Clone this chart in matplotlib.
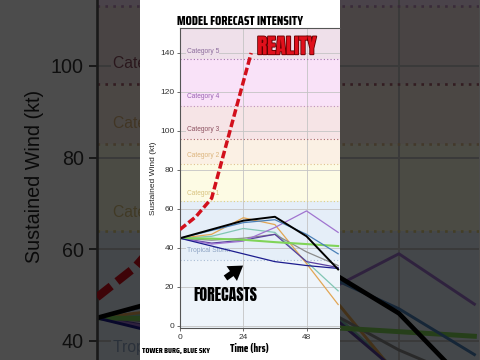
import matplotlib
matplotlib.use("Agg")
import matplotlib.pyplot as plt
from matplotlib.patches import Rectangle, FancyArrowPatch
import matplotlib.patheffects as pe

# ---------------- data ----------------
hours = [0, 12, 24, 36, 48, 60]
forecast_black = [45, 49.5, 54, 56, 46, 29]
forecast_steel = [45, 49, 53, 54.5, 47, 37]
forecast_lavender = [45, 42, 43.5, 50.5, 59, 48]
forecast_green = [45, 44.8, 44.2, 43, 42, 41]
forecast_navy = [45, 41, 37, 33, 31, 29.5]
forecast_indigo = [45, 42.5, 44, 47, 33, 30]
forecast_gray = [45, 44, 45, 47, 38, 31]
forecast_orange = [45, 47, 55.5, 52, 32, 11]
forecast_teal = [45, 46, 50, 48, 33, 18]

reality_hours = [0, 6, 12, 27]
reality_wind = [49.5, 56, 65.5, 140]

band_edges = [-5, 34, 64, 83, 96, 113, 137, 160]
band_colors = ["#eef4fa", "#e5eef8", "#fdfbe4", "#fbf0e4", "#f6e4e6", "#f9e2f8", "#efe0ea"]
thresholds = [34, 64, 83, 96, 113, 137]
threshold_colors = ["#a8bcd4", "#e0d080", "#e0c090", "#a86070", "#c090c0", "#a070a8"]
cat_names = ["Tropical Storm", "Category 1", "Category 2", "Category 3", "Category 4", "Category 5"]
cat_label_y = [38.5, 68, 87.5, 100.5, 117.5, 141]
cat_label_colors = ["#8ea4c4", "#d8c27e", "#dcb47c", "#8c5060", "#9a62b4", "#8c6c9c"]
x_ticks = [0, 24, 48]
y_ticks = [0, 20, 40, 60, 80, 100, 120, 140]

series = [
    (forecast_teal, "#82c6b4", 0.9),
    (forecast_orange, "#e2a654", 0.9),
    (forecast_gray, "#8c8c8c", 0.9),
    (forecast_indigo, "#5a40a0", 0.9),
    (forecast_lavender, "#a074d0", 0.9),
    (forecast_green, "#80d458", 1.5),
    (forecast_steel, "#4a80b8", 0.9),
    (forecast_navy, "#1c1c8e", 0.9),
    (forecast_black, "#000000", 1.4),
]

XLIM = (0, 60.7)
YLIM = (-1.03, 152.8)
HEAD = ["Anton", "DejaVu Sans"]
SUB = ["Saira Condensed", "Anton", "DejaVu Sans"]


def draw_chart(ax, s):
    for i in range(len(band_colors)):
        ax.axhspan(band_edges[i], band_edges[i + 1], color=band_colors[i], lw=0, zorder=0)
    for v, c in zip(thresholds, threshold_colors):
        ax.axhline(v, color=c, ls=(0, (1, 2)), lw=0.8 * s, zorder=1)
    ax.set_axisbelow(True)
    ax.grid(True, color="#c4c4c4", lw=0.6 * s)
    for name, y, c, bc in zip(cat_names, cat_label_y, cat_label_colors, band_colors[1:]):
        ax.text(2.5, y, name, color=c, fontsize=4.8 * s, family="Liberation Sans",
                va="center", ha="left", zorder=1.5,
                bbox=dict(fc=bc, ec="none", pad=0.4 * s))
    for vals, c, lw in series:
        ax.plot(hours, vals, color=c, lw=lw * s, zorder=2)
    ax.plot(reality_hours, reality_wind, color="#d2101c", lw=2.5 * s,
            ls=(0, (2.2, 0.9)), zorder=3)
    ax.set_xlim(*XLIM)
    ax.set_ylim(*YLIM)
    ax.set_xticks(x_ticks)
    ax.set_yticks(y_ticks)
    ax.tick_params(labelsize=6 * s, length=2.5 * s, width=0.6 * s, color="#555555",
                   labelcolor="#333333", pad=1.5 * s)
    for lab in ax.get_xticklabels() + ax.get_yticklabels():
        lab.set_family("Liberation Sans")
    ax.set_ylabel("Sustained Wind (kt)", fontsize=6 * s, family="Liberation Sans",
                  color="#222222", labelpad=2 * s)
    for sp in ["left", "bottom", "top"]:
        ax.spines[sp].set_color("#555555")
        ax.spines[sp].set_linewidth(0.8 * s)
    ax.spines["right"].set_visible(False)


fig = plt.figure(figsize=(4.8, 3.6), dpi=100)
fig.patch.set_facecolor("white")

# zoomed, dimmed background copy
bg = fig.add_axes([0.202, -0.469, 0.7955, 1.958], zorder=0)
draw_chart(bg, 2.37)

fig.add_artist(Rectangle((0, 0), 1, 1, transform=fig.transFigure, color="black",
                         alpha=0.7, lw=0, zorder=1))
fig.add_artist(Rectangle((140 / 480, 0), 200 / 480, 1, transform=fig.transFigure,
                         color="white", lw=0, zorder=2))

ax = fig.add_axes([180 / 480, 1 - 328 / 360, 160 / 480, 300 / 360], zorder=3)
draw_chart(ax, 1.0)

renderer = fig.canvas.get_renderer()


def fit(t, target_w):
    w = t.get_window_extent(renderer).width
    t.set_fontsize(t.get_fontsize() * target_w / w)


t_real = ax.text(29.3, 139.3, "REALITY", color="#e0101c", fontsize=12, family=HEAD,
                 ha="left", va="baseline", zorder=5,
                 path_effects=[pe.withStroke(linewidth=1.2, foreground="#600000")])
fit(t_real, 59)
t_fc = ax.text(4.9, 13, "FORECASTS", color="black", fontsize=11, family=HEAD,
               ha="left", va="baseline", zorder=5)
fit(t_fc, 64)
ax.add_patch(FancyArrowPatch((16.4, 23.8), (24.8, 31.8),
                             arrowstyle="simple,head_length=0.5,head_width=0.65,tail_width=0.22",
                             mutation_scale=20, color="black", lw=0, zorder=5))

t_title = fig.text(176.7 / 480, 1 - 25 / 360, "MODEL FORECAST INTENSITY", fontsize=8,
                   family=SUB, weight=800, ha="left", va="baseline", zorder=4)
fit(t_title, 126)
t_credit = fig.text(141.7 / 480, 1 - 352 / 360, "TOWER BURG, BLUE SKY", fontsize=5,
                    family=SUB, weight=800, ha="left", va="baseline", zorder=4)
fit(t_credit, 68)
t_time = fig.text(230 / 480, 1 - 352 / 360, "Time (hrs)", fontsize=8,
                  family=SUB, weight=800, ha="left", va="baseline", zorder=4)
fit(t_time, 39)

fig.savefig("out.png", dpi=100)
